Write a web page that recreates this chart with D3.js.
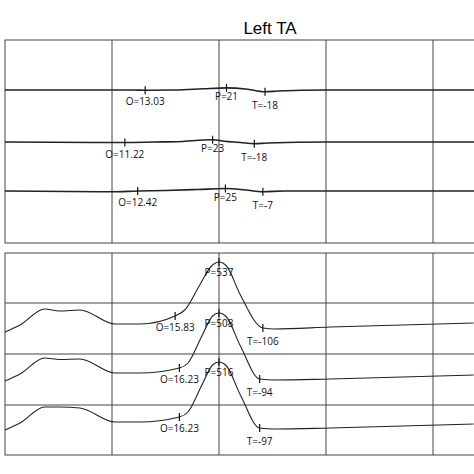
<!DOCTYPE html>
<html><head><meta charset="utf-8">
<script src="https://cdn.jsdelivr.net/npm/d3@7"></script>
<style>body{margin:0;background:#fff}</style>
</head><body>
<script>
// time (ms) ticks and traces (ms, uV relative to each baseline)
var gridMs = [0, 10, 20, 30, 40];
var topBase = [0, -520, -1010];   // uV offsets of small traces
var botBase = [0, -490, -980];

var topTraces = [
  [[0,0],[12,0],[13.1,-2],[16,0],[18.5,12],[20.7,21],[22.5,10],[24.3,-18],[25.5,-10],[30,0],[44,0]],
  [[0,0],[11.2,-5],[14,0],[16,3],[19.4,23],[20.5,8],[22,-5],[23.3,-18],[24.5,-10],[30,0],[44,0]],
  [[0,0],[10,-8],[12.4,0],[15,5],[18,15],[20.6,25],[22.5,10],[24.1,-7],[26,0],[44,0]]
];
var botTraces = [
  [[0,-120],[1.4,-50],[3.7,110],[5.1,90],[7,100],[10.3,-40],[12.6,-40],[15.9,40],[16.8,100],[18.2,350],[19.3,540],[20,580],[20.7,540],[22,250],[24.1,-80],[25.2,-90],[30.4,-70],[43.8,-30]],
  [[0,-120],[1.4,-50],[3.7,110],[5.1,95],[7,100],[10.3,-40],[12.6,-40],[16.3,10],[17.1,60],[18.4,330],[19.4,530],[20,560],[20.7,520],[22,230],[23.8,-100],[25.2,-110],[30.4,-100],[43.8,-60]],
  [[0,-120],[1.4,-50],[3.7,110],[5.1,110],[7,100],[10.3,-40],[12.6,-40],[16.3,10],[17.1,60],[18.4,330],[19.4,530],[20,560],[20.7,520],[22,230],[23.8,-100],[25.2,-110],[30.4,-100],[43.8,-60]]
];
var topMarks = [
  {o:13.1, p:20.7, t:24.3, ol:"O=13.03", pl:"P=21", tl:"T=-18"},
  {o:11.2, p:19.4, t:23.3, ol:"O=11.22", pl:"P=23", tl:"T=-18"},
  {o:12.4, p:20.6, t:24.1, ol:"O=12.42", pl:"P=25", tl:"T=-7"}
];
var botMarks = [
  {o:15.9, p:20, t:24.1, ol:"O=15.83", pl:"P=537", tl:"T=-106"},
  {o:16.3, p:20, t:23.8, ol:"O=16.23", pl:"P=508", tl:"T=-94"},
  {o:16.3, p:20, t:23.8, ol:"O=16.23", pl:"P=516", tl:"T=-97"}
];

var svg = d3.select("body").append("svg").attr("width", 474).attr("height", 474);
var x = d3.scaleLinear().domain([0, 10]).range([5, 112]);
var font = "'Open Sans', sans-serif";

svg.append("text").attr("x", 270).attr("y", 34).attr("text-anchor", "middle")
  .attr("font-family", "'Liberation Sans', Arial, sans-serif").attr("font-size", 17).text("Left TA");

function panel(y0, y1, hlines, base0, bases, traces, marks, bottom) {
  var g = svg.append("g");
  var st = "#444";
  g.append("rect").attr("x", 5).attr("y", y0).attr("width", 480).attr("height", y1 - y0)
    .attr("fill", "none").attr("stroke", st).attr("stroke-width", 1);
  g.selectAll("line.v").data(gridMs.slice(1)).enter().append("line")
    .attr("x1", x).attr("x2", x).attr("y1", y0).attr("y2", y1).attr("stroke", st);
  g.selectAll("line.h").data(hlines).enter().append("line")
    .attr("x1", 5).attr("x2", 474).attr("y1", d => d).attr("y2", d => d).attr("stroke", st);
  var y = d3.scaleLinear().domain([0, 1000]).range([base0, base0 - 100]);
  var line = d3.line().x(d => x(d[0])).curve(d3.curveMonotoneX);
  traces.forEach(function (tr, i) {
    var off = bases[i];
    var tl = tr.map(d => [d[0], d[1] + off]);
    g.append("path").attr("d", line.y(d => y(d[1]))(tl))
      .attr("fill", "none").attr("stroke", "#222").attr("stroke-width", bottom ? 1.1 : 1.6);
    var interp = function (t) {
      for (var k = 1; k < tl.length; k++) if (tl[k][0] >= t) {
        var a = tl[k - 1], b = tl[k], f = (t - a[0]) / (b[0] - a[0]);
        return y(a[1] + f * (b[1] - a[1]));
      }
      return y(tl[tl.length - 1][1]);
    };
    var m = marks[i];
    [["o", "ol", 12], ["p", "pl", bottom ? 11 : 9], ["t", "tl", 14]].forEach(function (k) {
      var px = x(m[k[0]]), py = interp(m[k[0]]);
      g.append("line").attr("x1", px).attr("x2", px).attr("y1", py - 4).attr("y2", py + 4)
        .attr("stroke", "#111").attr("stroke-width", 1.2);
      g.append("text").attr("x", px).attr("y", py + k[2] + 3).attr("text-anchor", "middle")
        .attr("font-family", font).attr("font-size", 10).attr("fill", "#111").text(m[k[1]]);
    });
  });
}
panel(40, 243, [], 90, topBase, topTraces, topMarks, false);
panel(253, 455, [303, 354, 405], 320, botBase, botTraces, botMarks, true);
</script>
</body></html>
